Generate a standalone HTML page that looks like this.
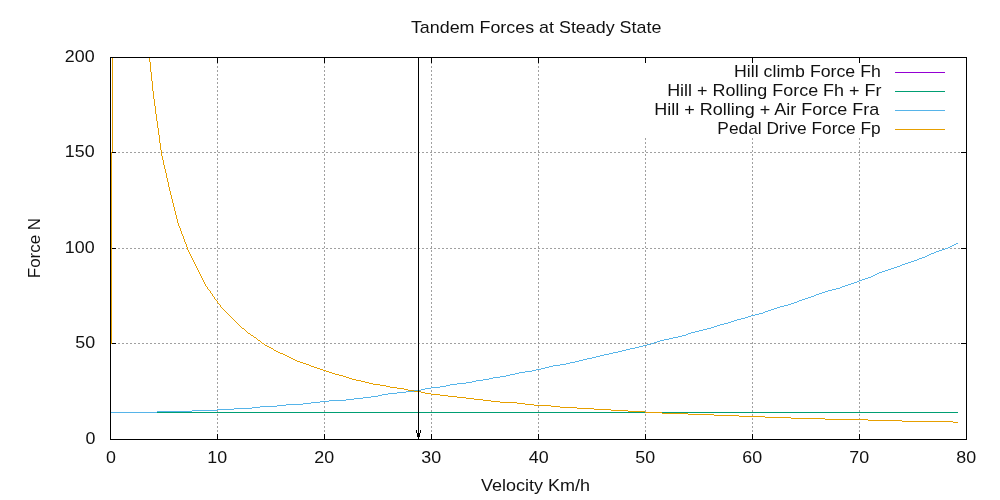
<!DOCTYPE html>
<html><head><meta charset="utf-8"><style>
html,body{margin:0;padding:0;background:#fff;}
svg{display:block;will-change:transform;}
.t{font-family:"Liberation Sans",sans-serif;font-size:17px;fill:#111;}
</style></head><body>
<svg width="1000" height="500" viewBox="0 0 1000 500">

<rect width="1000" height="500" fill="#fff"/>
<path d="M217 58h1v2h-1zM217 62h1v2h-1zM217 66h1v2h-1zM217 70h1v2h-1zM217 74h1v2h-1zM217 78h1v2h-1zM217 82h1v2h-1zM217 86h1v2h-1zM217 90h1v2h-1zM217 94h1v2h-1zM217 98h1v2h-1zM217 102h1v2h-1zM217 106h1v2h-1zM217 110h1v2h-1zM217 114h1v2h-1zM217 118h1v2h-1zM217 122h1v2h-1zM217 126h1v2h-1zM217 130h1v2h-1zM217 134h1v2h-1zM217 138h1v2h-1zM217 142h1v2h-1zM217 146h1v2h-1zM217 150h1v2h-1zM217 154h1v2h-1zM217 158h1v2h-1zM217 162h1v2h-1zM217 166h1v2h-1zM217 170h1v2h-1zM217 174h1v2h-1zM217 178h1v2h-1zM217 182h1v2h-1zM217 186h1v2h-1zM217 190h1v2h-1zM217 194h1v2h-1zM217 198h1v2h-1zM217 202h1v2h-1zM217 206h1v2h-1zM217 210h1v2h-1zM217 214h1v2h-1zM217 218h1v2h-1zM217 222h1v2h-1zM217 226h1v2h-1zM217 230h1v2h-1zM217 234h1v2h-1zM217 238h1v2h-1zM217 242h1v2h-1zM217 246h1v2h-1zM217 250h1v2h-1zM217 254h1v2h-1zM217 258h1v2h-1zM217 262h1v2h-1zM217 266h1v2h-1zM217 270h1v2h-1zM217 274h1v2h-1zM217 278h1v2h-1zM217 282h1v2h-1zM217 286h1v2h-1zM217 290h1v2h-1zM217 294h1v2h-1zM217 298h1v2h-1zM217 302h1v2h-1zM217 306h1v2h-1zM217 310h1v2h-1zM217 314h1v2h-1zM217 318h1v2h-1zM217 322h1v2h-1zM217 326h1v2h-1zM217 330h1v2h-1zM217 334h1v2h-1zM217 338h1v2h-1zM217 342h1v2h-1zM217 346h1v2h-1zM217 350h1v2h-1zM217 354h1v2h-1zM217 358h1v2h-1zM217 362h1v2h-1zM217 366h1v2h-1zM217 370h1v2h-1zM217 374h1v2h-1zM217 378h1v2h-1zM217 382h1v2h-1zM217 386h1v2h-1zM217 390h1v2h-1zM217 394h1v2h-1zM217 398h1v2h-1zM217 402h1v2h-1zM217 406h1v2h-1zM217 410h1v2h-1zM217 414h1v2h-1zM217 418h1v2h-1zM217 422h1v2h-1zM217 426h1v2h-1zM217 430h1v2h-1zM217 434h1v2h-1zM217 438h1v1h-1zM324 58h1v2h-1zM324 62h1v2h-1zM324 66h1v2h-1zM324 70h1v2h-1zM324 74h1v2h-1zM324 78h1v2h-1zM324 82h1v2h-1zM324 86h1v2h-1zM324 90h1v2h-1zM324 94h1v2h-1zM324 98h1v2h-1zM324 102h1v2h-1zM324 106h1v2h-1zM324 110h1v2h-1zM324 114h1v2h-1zM324 118h1v2h-1zM324 122h1v2h-1zM324 126h1v2h-1zM324 130h1v2h-1zM324 134h1v2h-1zM324 138h1v2h-1zM324 142h1v2h-1zM324 146h1v2h-1zM324 150h1v2h-1zM324 154h1v2h-1zM324 158h1v2h-1zM324 162h1v2h-1zM324 166h1v2h-1zM324 170h1v2h-1zM324 174h1v2h-1zM324 178h1v2h-1zM324 182h1v2h-1zM324 186h1v2h-1zM324 190h1v2h-1zM324 194h1v2h-1zM324 198h1v2h-1zM324 202h1v2h-1zM324 206h1v2h-1zM324 210h1v2h-1zM324 214h1v2h-1zM324 218h1v2h-1zM324 222h1v2h-1zM324 226h1v2h-1zM324 230h1v2h-1zM324 234h1v2h-1zM324 238h1v2h-1zM324 242h1v2h-1zM324 246h1v2h-1zM324 250h1v2h-1zM324 254h1v2h-1zM324 258h1v2h-1zM324 262h1v2h-1zM324 266h1v2h-1zM324 270h1v2h-1zM324 274h1v2h-1zM324 278h1v2h-1zM324 282h1v2h-1zM324 286h1v2h-1zM324 290h1v2h-1zM324 294h1v2h-1zM324 298h1v2h-1zM324 302h1v2h-1zM324 306h1v2h-1zM324 310h1v2h-1zM324 314h1v2h-1zM324 318h1v2h-1zM324 322h1v2h-1zM324 326h1v2h-1zM324 330h1v2h-1zM324 334h1v2h-1zM324 338h1v2h-1zM324 342h1v2h-1zM324 346h1v2h-1zM324 350h1v2h-1zM324 354h1v2h-1zM324 358h1v2h-1zM324 362h1v2h-1zM324 366h1v2h-1zM324 370h1v2h-1zM324 374h1v2h-1zM324 378h1v2h-1zM324 382h1v2h-1zM324 386h1v2h-1zM324 390h1v2h-1zM324 394h1v2h-1zM324 398h1v2h-1zM324 402h1v2h-1zM324 406h1v2h-1zM324 410h1v2h-1zM324 414h1v2h-1zM324 418h1v2h-1zM324 422h1v2h-1zM324 426h1v2h-1zM324 430h1v2h-1zM324 434h1v2h-1zM324 438h1v1h-1zM431 58h1v2h-1zM431 62h1v2h-1zM431 66h1v2h-1zM431 70h1v2h-1zM431 74h1v2h-1zM431 78h1v2h-1zM431 82h1v2h-1zM431 86h1v2h-1zM431 90h1v2h-1zM431 94h1v2h-1zM431 98h1v2h-1zM431 102h1v2h-1zM431 106h1v2h-1zM431 110h1v2h-1zM431 114h1v2h-1zM431 118h1v2h-1zM431 122h1v2h-1zM431 126h1v2h-1zM431 130h1v2h-1zM431 134h1v2h-1zM431 138h1v2h-1zM431 142h1v2h-1zM431 146h1v2h-1zM431 150h1v2h-1zM431 154h1v2h-1zM431 158h1v2h-1zM431 162h1v2h-1zM431 166h1v2h-1zM431 170h1v2h-1zM431 174h1v2h-1zM431 178h1v2h-1zM431 182h1v2h-1zM431 186h1v2h-1zM431 190h1v2h-1zM431 194h1v2h-1zM431 198h1v2h-1zM431 202h1v2h-1zM431 206h1v2h-1zM431 210h1v2h-1zM431 214h1v2h-1zM431 218h1v2h-1zM431 222h1v2h-1zM431 226h1v2h-1zM431 230h1v2h-1zM431 234h1v2h-1zM431 238h1v2h-1zM431 242h1v2h-1zM431 246h1v2h-1zM431 250h1v2h-1zM431 254h1v2h-1zM431 258h1v2h-1zM431 262h1v2h-1zM431 266h1v2h-1zM431 270h1v2h-1zM431 274h1v2h-1zM431 278h1v2h-1zM431 282h1v2h-1zM431 286h1v2h-1zM431 290h1v2h-1zM431 294h1v2h-1zM431 298h1v2h-1zM431 302h1v2h-1zM431 306h1v2h-1zM431 310h1v2h-1zM431 314h1v2h-1zM431 318h1v2h-1zM431 322h1v2h-1zM431 326h1v2h-1zM431 330h1v2h-1zM431 334h1v2h-1zM431 338h1v2h-1zM431 342h1v2h-1zM431 346h1v2h-1zM431 350h1v2h-1zM431 354h1v2h-1zM431 358h1v2h-1zM431 362h1v2h-1zM431 366h1v2h-1zM431 370h1v2h-1zM431 374h1v2h-1zM431 378h1v2h-1zM431 382h1v2h-1zM431 386h1v2h-1zM431 390h1v2h-1zM431 394h1v2h-1zM431 398h1v2h-1zM431 402h1v2h-1zM431 406h1v2h-1zM431 410h1v2h-1zM431 414h1v2h-1zM431 418h1v2h-1zM431 422h1v2h-1zM431 426h1v2h-1zM431 430h1v2h-1zM431 434h1v2h-1zM431 438h1v1h-1zM538 58h1v2h-1zM538 62h1v2h-1zM538 66h1v2h-1zM538 70h1v2h-1zM538 74h1v2h-1zM538 78h1v2h-1zM538 82h1v2h-1zM538 86h1v2h-1zM538 90h1v2h-1zM538 94h1v2h-1zM538 98h1v2h-1zM538 102h1v2h-1zM538 106h1v2h-1zM538 110h1v2h-1zM538 114h1v2h-1zM538 118h1v2h-1zM538 122h1v2h-1zM538 126h1v2h-1zM538 130h1v2h-1zM538 134h1v2h-1zM538 138h1v2h-1zM538 142h1v2h-1zM538 146h1v2h-1zM538 150h1v2h-1zM538 154h1v2h-1zM538 158h1v2h-1zM538 162h1v2h-1zM538 166h1v2h-1zM538 170h1v2h-1zM538 174h1v2h-1zM538 178h1v2h-1zM538 182h1v2h-1zM538 186h1v2h-1zM538 190h1v2h-1zM538 194h1v2h-1zM538 198h1v2h-1zM538 202h1v2h-1zM538 206h1v2h-1zM538 210h1v2h-1zM538 214h1v2h-1zM538 218h1v2h-1zM538 222h1v2h-1zM538 226h1v2h-1zM538 230h1v2h-1zM538 234h1v2h-1zM538 238h1v2h-1zM538 242h1v2h-1zM538 246h1v2h-1zM538 250h1v2h-1zM538 254h1v2h-1zM538 258h1v2h-1zM538 262h1v2h-1zM538 266h1v2h-1zM538 270h1v2h-1zM538 274h1v2h-1zM538 278h1v2h-1zM538 282h1v2h-1zM538 286h1v2h-1zM538 290h1v2h-1zM538 294h1v2h-1zM538 298h1v2h-1zM538 302h1v2h-1zM538 306h1v2h-1zM538 310h1v2h-1zM538 314h1v2h-1zM538 318h1v2h-1zM538 322h1v2h-1zM538 326h1v2h-1zM538 330h1v2h-1zM538 334h1v2h-1zM538 338h1v2h-1zM538 342h1v2h-1zM538 346h1v2h-1zM538 350h1v2h-1zM538 354h1v2h-1zM538 358h1v2h-1zM538 362h1v2h-1zM538 366h1v2h-1zM538 370h1v2h-1zM538 374h1v2h-1zM538 378h1v2h-1zM538 382h1v2h-1zM538 386h1v2h-1zM538 390h1v2h-1zM538 394h1v2h-1zM538 398h1v2h-1zM538 402h1v2h-1zM538 406h1v2h-1zM538 410h1v2h-1zM538 414h1v2h-1zM538 418h1v2h-1zM538 422h1v2h-1zM538 426h1v2h-1zM538 430h1v2h-1zM538 434h1v2h-1zM538 438h1v1h-1zM645 58h1v2h-1zM645 62h1v1h-1zM645 138h1v2h-1zM645 142h1v2h-1zM645 146h1v2h-1zM645 150h1v2h-1zM645 154h1v2h-1zM645 158h1v2h-1zM645 162h1v2h-1zM645 166h1v2h-1zM645 170h1v2h-1zM645 174h1v2h-1zM645 178h1v2h-1zM645 182h1v2h-1zM645 186h1v2h-1zM645 190h1v2h-1zM645 194h1v2h-1zM645 198h1v2h-1zM645 202h1v2h-1zM645 206h1v2h-1zM645 210h1v2h-1zM645 214h1v2h-1zM645 218h1v2h-1zM645 222h1v2h-1zM645 226h1v2h-1zM645 230h1v2h-1zM645 234h1v2h-1zM645 238h1v2h-1zM645 242h1v2h-1zM645 246h1v2h-1zM645 250h1v2h-1zM645 254h1v2h-1zM645 258h1v2h-1zM645 262h1v2h-1zM645 266h1v2h-1zM645 270h1v2h-1zM645 274h1v2h-1zM645 278h1v2h-1zM645 282h1v2h-1zM645 286h1v2h-1zM645 290h1v2h-1zM645 294h1v2h-1zM645 298h1v2h-1zM645 302h1v2h-1zM645 306h1v2h-1zM645 310h1v2h-1zM645 314h1v2h-1zM645 318h1v2h-1zM645 322h1v2h-1zM645 326h1v2h-1zM645 330h1v2h-1zM645 334h1v2h-1zM645 338h1v2h-1zM645 342h1v2h-1zM645 346h1v2h-1zM645 350h1v2h-1zM645 354h1v2h-1zM645 358h1v2h-1zM645 362h1v2h-1zM645 366h1v2h-1zM645 370h1v2h-1zM645 374h1v2h-1zM645 378h1v2h-1zM645 382h1v2h-1zM645 386h1v2h-1zM645 390h1v2h-1zM645 394h1v2h-1zM645 398h1v2h-1zM645 402h1v2h-1zM645 406h1v2h-1zM645 410h1v2h-1zM645 414h1v2h-1zM645 418h1v2h-1zM645 422h1v2h-1zM645 426h1v2h-1zM645 430h1v2h-1zM645 434h1v2h-1zM645 438h1v1h-1zM752 58h1v2h-1zM752 62h1v1h-1zM752 138h1v2h-1zM752 142h1v2h-1zM752 146h1v2h-1zM752 150h1v2h-1zM752 154h1v2h-1zM752 158h1v2h-1zM752 162h1v2h-1zM752 166h1v2h-1zM752 170h1v2h-1zM752 174h1v2h-1zM752 178h1v2h-1zM752 182h1v2h-1zM752 186h1v2h-1zM752 190h1v2h-1zM752 194h1v2h-1zM752 198h1v2h-1zM752 202h1v2h-1zM752 206h1v2h-1zM752 210h1v2h-1zM752 214h1v2h-1zM752 218h1v2h-1zM752 222h1v2h-1zM752 226h1v2h-1zM752 230h1v2h-1zM752 234h1v2h-1zM752 238h1v2h-1zM752 242h1v2h-1zM752 246h1v2h-1zM752 250h1v2h-1zM752 254h1v2h-1zM752 258h1v2h-1zM752 262h1v2h-1zM752 266h1v2h-1zM752 270h1v2h-1zM752 274h1v2h-1zM752 278h1v2h-1zM752 282h1v2h-1zM752 286h1v2h-1zM752 290h1v2h-1zM752 294h1v2h-1zM752 298h1v2h-1zM752 302h1v2h-1zM752 306h1v2h-1zM752 310h1v2h-1zM752 314h1v2h-1zM752 318h1v2h-1zM752 322h1v2h-1zM752 326h1v2h-1zM752 330h1v2h-1zM752 334h1v2h-1zM752 338h1v2h-1zM752 342h1v2h-1zM752 346h1v2h-1zM752 350h1v2h-1zM752 354h1v2h-1zM752 358h1v2h-1zM752 362h1v2h-1zM752 366h1v2h-1zM752 370h1v2h-1zM752 374h1v2h-1zM752 378h1v2h-1zM752 382h1v2h-1zM752 386h1v2h-1zM752 390h1v2h-1zM752 394h1v2h-1zM752 398h1v2h-1zM752 402h1v2h-1zM752 406h1v2h-1zM752 410h1v2h-1zM752 414h1v2h-1zM752 418h1v2h-1zM752 422h1v2h-1zM752 426h1v2h-1zM752 430h1v2h-1zM752 434h1v2h-1zM752 438h1v1h-1zM859 58h1v2h-1zM859 62h1v1h-1zM859 138h1v2h-1zM859 142h1v2h-1zM859 146h1v2h-1zM859 150h1v2h-1zM859 154h1v2h-1zM859 158h1v2h-1zM859 162h1v2h-1zM859 166h1v2h-1zM859 170h1v2h-1zM859 174h1v2h-1zM859 178h1v2h-1zM859 182h1v2h-1zM859 186h1v2h-1zM859 190h1v2h-1zM859 194h1v2h-1zM859 198h1v2h-1zM859 202h1v2h-1zM859 206h1v2h-1zM859 210h1v2h-1zM859 214h1v2h-1zM859 218h1v2h-1zM859 222h1v2h-1zM859 226h1v2h-1zM859 230h1v2h-1zM859 234h1v2h-1zM859 238h1v2h-1zM859 242h1v2h-1zM859 246h1v2h-1zM859 250h1v2h-1zM859 254h1v2h-1zM859 258h1v2h-1zM859 262h1v2h-1zM859 266h1v2h-1zM859 270h1v2h-1zM859 274h1v2h-1zM859 278h1v2h-1zM859 282h1v2h-1zM859 286h1v2h-1zM859 290h1v2h-1zM859 294h1v2h-1zM859 298h1v2h-1zM859 302h1v2h-1zM859 306h1v2h-1zM859 310h1v2h-1zM859 314h1v2h-1zM859 318h1v2h-1zM859 322h1v2h-1zM859 326h1v2h-1zM859 330h1v2h-1zM859 334h1v2h-1zM859 338h1v2h-1zM859 342h1v2h-1zM859 346h1v2h-1zM859 350h1v2h-1zM859 354h1v2h-1zM859 358h1v2h-1zM859 362h1v2h-1zM859 366h1v2h-1zM859 370h1v2h-1zM859 374h1v2h-1zM859 378h1v2h-1zM859 382h1v2h-1zM859 386h1v2h-1zM859 390h1v2h-1zM859 394h1v2h-1zM859 398h1v2h-1zM859 402h1v2h-1zM859 406h1v2h-1zM859 410h1v2h-1zM859 414h1v2h-1zM859 418h1v2h-1zM859 422h1v2h-1zM859 426h1v2h-1zM859 430h1v2h-1zM859 434h1v2h-1zM859 438h1v1h-1zM111 343h1v1h-1zM114 343h2v1h-2zM118 343h2v1h-2zM122 343h2v1h-2zM126 343h2v1h-2zM130 343h2v1h-2zM134 343h2v1h-2zM138 343h2v1h-2zM142 343h2v1h-2zM146 343h2v1h-2zM150 343h2v1h-2zM154 343h2v1h-2zM158 343h2v1h-2zM162 343h2v1h-2zM166 343h2v1h-2zM170 343h2v1h-2zM174 343h2v1h-2zM178 343h2v1h-2zM182 343h2v1h-2zM186 343h2v1h-2zM190 343h2v1h-2zM194 343h2v1h-2zM198 343h2v1h-2zM202 343h2v1h-2zM206 343h2v1h-2zM210 343h2v1h-2zM214 343h2v1h-2zM218 343h2v1h-2zM222 343h2v1h-2zM226 343h2v1h-2zM230 343h2v1h-2zM234 343h2v1h-2zM238 343h2v1h-2zM242 343h2v1h-2zM246 343h2v1h-2zM250 343h2v1h-2zM254 343h2v1h-2zM258 343h2v1h-2zM262 343h2v1h-2zM266 343h2v1h-2zM270 343h2v1h-2zM274 343h2v1h-2zM278 343h2v1h-2zM282 343h2v1h-2zM286 343h2v1h-2zM290 343h2v1h-2zM294 343h2v1h-2zM298 343h2v1h-2zM302 343h2v1h-2zM306 343h2v1h-2zM310 343h2v1h-2zM314 343h2v1h-2zM318 343h2v1h-2zM322 343h2v1h-2zM326 343h2v1h-2zM330 343h2v1h-2zM334 343h2v1h-2zM338 343h2v1h-2zM342 343h2v1h-2zM346 343h2v1h-2zM350 343h2v1h-2zM354 343h2v1h-2zM358 343h2v1h-2zM362 343h2v1h-2zM366 343h2v1h-2zM370 343h2v1h-2zM374 343h2v1h-2zM378 343h2v1h-2zM382 343h2v1h-2zM386 343h2v1h-2zM390 343h2v1h-2zM394 343h2v1h-2zM398 343h2v1h-2zM402 343h2v1h-2zM406 343h2v1h-2zM410 343h2v1h-2zM414 343h2v1h-2zM418 343h2v1h-2zM422 343h2v1h-2zM426 343h2v1h-2zM430 343h2v1h-2zM434 343h2v1h-2zM438 343h2v1h-2zM442 343h2v1h-2zM446 343h2v1h-2zM450 343h2v1h-2zM454 343h2v1h-2zM458 343h2v1h-2zM462 343h2v1h-2zM466 343h2v1h-2zM470 343h2v1h-2zM474 343h2v1h-2zM478 343h2v1h-2zM482 343h2v1h-2zM486 343h2v1h-2zM490 343h2v1h-2zM494 343h2v1h-2zM498 343h2v1h-2zM502 343h2v1h-2zM506 343h2v1h-2zM510 343h2v1h-2zM514 343h2v1h-2zM518 343h2v1h-2zM522 343h2v1h-2zM526 343h2v1h-2zM530 343h2v1h-2zM534 343h2v1h-2zM538 343h2v1h-2zM542 343h2v1h-2zM546 343h2v1h-2zM550 343h2v1h-2zM554 343h2v1h-2zM558 343h2v1h-2zM562 343h2v1h-2zM566 343h2v1h-2zM570 343h2v1h-2zM574 343h2v1h-2zM578 343h2v1h-2zM582 343h2v1h-2zM586 343h2v1h-2zM590 343h2v1h-2zM594 343h2v1h-2zM598 343h2v1h-2zM602 343h2v1h-2zM606 343h2v1h-2zM610 343h2v1h-2zM614 343h2v1h-2zM618 343h2v1h-2zM622 343h2v1h-2zM626 343h2v1h-2zM630 343h2v1h-2zM634 343h2v1h-2zM638 343h2v1h-2zM642 343h2v1h-2zM646 343h2v1h-2zM650 343h2v1h-2zM654 343h2v1h-2zM658 343h2v1h-2zM662 343h2v1h-2zM666 343h2v1h-2zM670 343h2v1h-2zM674 343h2v1h-2zM678 343h2v1h-2zM682 343h2v1h-2zM686 343h2v1h-2zM690 343h2v1h-2zM694 343h2v1h-2zM698 343h2v1h-2zM702 343h2v1h-2zM706 343h2v1h-2zM710 343h2v1h-2zM714 343h2v1h-2zM718 343h2v1h-2zM722 343h2v1h-2zM726 343h2v1h-2zM730 343h2v1h-2zM734 343h2v1h-2zM738 343h2v1h-2zM742 343h2v1h-2zM746 343h2v1h-2zM750 343h2v1h-2zM754 343h2v1h-2zM758 343h2v1h-2zM762 343h2v1h-2zM766 343h2v1h-2zM770 343h2v1h-2zM774 343h2v1h-2zM778 343h2v1h-2zM782 343h2v1h-2zM786 343h2v1h-2zM790 343h2v1h-2zM794 343h2v1h-2zM798 343h2v1h-2zM802 343h2v1h-2zM806 343h2v1h-2zM810 343h2v1h-2zM814 343h2v1h-2zM818 343h2v1h-2zM822 343h2v1h-2zM826 343h2v1h-2zM830 343h2v1h-2zM834 343h2v1h-2zM838 343h2v1h-2zM842 343h2v1h-2zM846 343h2v1h-2zM850 343h2v1h-2zM854 343h2v1h-2zM858 343h2v1h-2zM862 343h2v1h-2zM866 343h2v1h-2zM870 343h2v1h-2zM874 343h2v1h-2zM878 343h2v1h-2zM882 343h2v1h-2zM886 343h2v1h-2zM890 343h2v1h-2zM894 343h2v1h-2zM898 343h2v1h-2zM902 343h2v1h-2zM906 343h2v1h-2zM910 343h2v1h-2zM914 343h2v1h-2zM918 343h2v1h-2zM922 343h2v1h-2zM926 343h2v1h-2zM930 343h2v1h-2zM934 343h2v1h-2zM938 343h2v1h-2zM942 343h2v1h-2zM946 343h2v1h-2zM950 343h2v1h-2zM954 343h2v1h-2zM958 343h2v1h-2zM962 343h2v1h-2zM111 248h1v1h-1zM114 248h2v1h-2zM118 248h2v1h-2zM122 248h2v1h-2zM126 248h2v1h-2zM130 248h2v1h-2zM134 248h2v1h-2zM138 248h2v1h-2zM142 248h2v1h-2zM146 248h2v1h-2zM150 248h2v1h-2zM154 248h2v1h-2zM158 248h2v1h-2zM162 248h2v1h-2zM166 248h2v1h-2zM170 248h2v1h-2zM174 248h2v1h-2zM178 248h2v1h-2zM182 248h2v1h-2zM186 248h2v1h-2zM190 248h2v1h-2zM194 248h2v1h-2zM198 248h2v1h-2zM202 248h2v1h-2zM206 248h2v1h-2zM210 248h2v1h-2zM214 248h2v1h-2zM218 248h2v1h-2zM222 248h2v1h-2zM226 248h2v1h-2zM230 248h2v1h-2zM234 248h2v1h-2zM238 248h2v1h-2zM242 248h2v1h-2zM246 248h2v1h-2zM250 248h2v1h-2zM254 248h2v1h-2zM258 248h2v1h-2zM262 248h2v1h-2zM266 248h2v1h-2zM270 248h2v1h-2zM274 248h2v1h-2zM278 248h2v1h-2zM282 248h2v1h-2zM286 248h2v1h-2zM290 248h2v1h-2zM294 248h2v1h-2zM298 248h2v1h-2zM302 248h2v1h-2zM306 248h2v1h-2zM310 248h2v1h-2zM314 248h2v1h-2zM318 248h2v1h-2zM322 248h2v1h-2zM326 248h2v1h-2zM330 248h2v1h-2zM334 248h2v1h-2zM338 248h2v1h-2zM342 248h2v1h-2zM346 248h2v1h-2zM350 248h2v1h-2zM354 248h2v1h-2zM358 248h2v1h-2zM362 248h2v1h-2zM366 248h2v1h-2zM370 248h2v1h-2zM374 248h2v1h-2zM378 248h2v1h-2zM382 248h2v1h-2zM386 248h2v1h-2zM390 248h2v1h-2zM394 248h2v1h-2zM398 248h2v1h-2zM402 248h2v1h-2zM406 248h2v1h-2zM410 248h2v1h-2zM414 248h2v1h-2zM418 248h2v1h-2zM422 248h2v1h-2zM426 248h2v1h-2zM430 248h2v1h-2zM434 248h2v1h-2zM438 248h2v1h-2zM442 248h2v1h-2zM446 248h2v1h-2zM450 248h2v1h-2zM454 248h2v1h-2zM458 248h2v1h-2zM462 248h2v1h-2zM466 248h2v1h-2zM470 248h2v1h-2zM474 248h2v1h-2zM478 248h2v1h-2zM482 248h2v1h-2zM486 248h2v1h-2zM490 248h2v1h-2zM494 248h2v1h-2zM498 248h2v1h-2zM502 248h2v1h-2zM506 248h2v1h-2zM510 248h2v1h-2zM514 248h2v1h-2zM518 248h2v1h-2zM522 248h2v1h-2zM526 248h2v1h-2zM530 248h2v1h-2zM534 248h2v1h-2zM538 248h2v1h-2zM542 248h2v1h-2zM546 248h2v1h-2zM550 248h2v1h-2zM554 248h2v1h-2zM558 248h2v1h-2zM562 248h2v1h-2zM566 248h2v1h-2zM570 248h2v1h-2zM574 248h2v1h-2zM578 248h2v1h-2zM582 248h2v1h-2zM586 248h2v1h-2zM590 248h2v1h-2zM594 248h2v1h-2zM598 248h2v1h-2zM602 248h2v1h-2zM606 248h2v1h-2zM610 248h2v1h-2zM614 248h2v1h-2zM618 248h2v1h-2zM622 248h2v1h-2zM626 248h2v1h-2zM630 248h2v1h-2zM634 248h2v1h-2zM638 248h2v1h-2zM642 248h2v1h-2zM646 248h2v1h-2zM650 248h2v1h-2zM654 248h2v1h-2zM658 248h2v1h-2zM662 248h2v1h-2zM666 248h2v1h-2zM670 248h2v1h-2zM674 248h2v1h-2zM678 248h2v1h-2zM682 248h2v1h-2zM686 248h2v1h-2zM690 248h2v1h-2zM694 248h2v1h-2zM698 248h2v1h-2zM702 248h2v1h-2zM706 248h2v1h-2zM710 248h2v1h-2zM714 248h2v1h-2zM718 248h2v1h-2zM722 248h2v1h-2zM726 248h2v1h-2zM730 248h2v1h-2zM734 248h2v1h-2zM738 248h2v1h-2zM742 248h2v1h-2zM746 248h2v1h-2zM750 248h2v1h-2zM754 248h2v1h-2zM758 248h2v1h-2zM762 248h2v1h-2zM766 248h2v1h-2zM770 248h2v1h-2zM774 248h2v1h-2zM778 248h2v1h-2zM782 248h2v1h-2zM786 248h2v1h-2zM790 248h2v1h-2zM794 248h2v1h-2zM798 248h2v1h-2zM802 248h2v1h-2zM806 248h2v1h-2zM810 248h2v1h-2zM814 248h2v1h-2zM818 248h2v1h-2zM822 248h2v1h-2zM826 248h2v1h-2zM830 248h2v1h-2zM834 248h2v1h-2zM838 248h2v1h-2zM842 248h2v1h-2zM846 248h2v1h-2zM850 248h2v1h-2zM854 248h2v1h-2zM858 248h2v1h-2zM862 248h2v1h-2zM866 248h2v1h-2zM870 248h2v1h-2zM874 248h2v1h-2zM878 248h2v1h-2zM882 248h2v1h-2zM886 248h2v1h-2zM890 248h2v1h-2zM894 248h2v1h-2zM898 248h2v1h-2zM902 248h2v1h-2zM906 248h2v1h-2zM910 248h2v1h-2zM914 248h2v1h-2zM918 248h2v1h-2zM922 248h2v1h-2zM926 248h2v1h-2zM930 248h2v1h-2zM934 248h2v1h-2zM938 248h2v1h-2zM942 248h2v1h-2zM946 248h2v1h-2zM950 248h2v1h-2zM954 248h2v1h-2zM958 248h2v1h-2zM962 248h2v1h-2zM111 152h1v1h-1zM114 152h2v1h-2zM118 152h2v1h-2zM122 152h2v1h-2zM126 152h2v1h-2zM130 152h2v1h-2zM134 152h2v1h-2zM138 152h2v1h-2zM142 152h2v1h-2zM146 152h2v1h-2zM150 152h2v1h-2zM154 152h2v1h-2zM158 152h2v1h-2zM162 152h2v1h-2zM166 152h2v1h-2zM170 152h2v1h-2zM174 152h2v1h-2zM178 152h2v1h-2zM182 152h2v1h-2zM186 152h2v1h-2zM190 152h2v1h-2zM194 152h2v1h-2zM198 152h2v1h-2zM202 152h2v1h-2zM206 152h2v1h-2zM210 152h2v1h-2zM214 152h2v1h-2zM218 152h2v1h-2zM222 152h2v1h-2zM226 152h2v1h-2zM230 152h2v1h-2zM234 152h2v1h-2zM238 152h2v1h-2zM242 152h2v1h-2zM246 152h2v1h-2zM250 152h2v1h-2zM254 152h2v1h-2zM258 152h2v1h-2zM262 152h2v1h-2zM266 152h2v1h-2zM270 152h2v1h-2zM274 152h2v1h-2zM278 152h2v1h-2zM282 152h2v1h-2zM286 152h2v1h-2zM290 152h2v1h-2zM294 152h2v1h-2zM298 152h2v1h-2zM302 152h2v1h-2zM306 152h2v1h-2zM310 152h2v1h-2zM314 152h2v1h-2zM318 152h2v1h-2zM322 152h2v1h-2zM326 152h2v1h-2zM330 152h2v1h-2zM334 152h2v1h-2zM338 152h2v1h-2zM342 152h2v1h-2zM346 152h2v1h-2zM350 152h2v1h-2zM354 152h2v1h-2zM358 152h2v1h-2zM362 152h2v1h-2zM366 152h2v1h-2zM370 152h2v1h-2zM374 152h2v1h-2zM378 152h2v1h-2zM382 152h2v1h-2zM386 152h2v1h-2zM390 152h2v1h-2zM394 152h2v1h-2zM398 152h2v1h-2zM402 152h2v1h-2zM406 152h2v1h-2zM410 152h2v1h-2zM414 152h2v1h-2zM418 152h2v1h-2zM422 152h2v1h-2zM426 152h2v1h-2zM430 152h2v1h-2zM434 152h2v1h-2zM438 152h2v1h-2zM442 152h2v1h-2zM446 152h2v1h-2zM450 152h2v1h-2zM454 152h2v1h-2zM458 152h2v1h-2zM462 152h2v1h-2zM466 152h2v1h-2zM470 152h2v1h-2zM474 152h2v1h-2zM478 152h2v1h-2zM482 152h2v1h-2zM486 152h2v1h-2zM490 152h2v1h-2zM494 152h2v1h-2zM498 152h2v1h-2zM502 152h2v1h-2zM506 152h2v1h-2zM510 152h2v1h-2zM514 152h2v1h-2zM518 152h2v1h-2zM522 152h2v1h-2zM526 152h2v1h-2zM530 152h2v1h-2zM534 152h2v1h-2zM538 152h2v1h-2zM542 152h2v1h-2zM546 152h2v1h-2zM550 152h2v1h-2zM554 152h2v1h-2zM558 152h2v1h-2zM562 152h2v1h-2zM566 152h2v1h-2zM570 152h2v1h-2zM574 152h2v1h-2zM578 152h2v1h-2zM582 152h2v1h-2zM586 152h2v1h-2zM590 152h2v1h-2zM594 152h2v1h-2zM598 152h2v1h-2zM602 152h2v1h-2zM606 152h2v1h-2zM610 152h2v1h-2zM614 152h2v1h-2zM618 152h2v1h-2zM622 152h2v1h-2zM626 152h2v1h-2zM630 152h2v1h-2zM634 152h2v1h-2zM638 152h2v1h-2zM642 152h2v1h-2zM646 152h2v1h-2zM650 152h2v1h-2zM654 152h2v1h-2zM658 152h2v1h-2zM662 152h2v1h-2zM666 152h2v1h-2zM670 152h2v1h-2zM674 152h2v1h-2zM678 152h2v1h-2zM682 152h2v1h-2zM686 152h2v1h-2zM690 152h2v1h-2zM694 152h2v1h-2zM698 152h2v1h-2zM702 152h2v1h-2zM706 152h2v1h-2zM710 152h2v1h-2zM714 152h2v1h-2zM718 152h2v1h-2zM722 152h2v1h-2zM726 152h2v1h-2zM730 152h2v1h-2zM734 152h2v1h-2zM738 152h2v1h-2zM742 152h2v1h-2zM746 152h2v1h-2zM750 152h2v1h-2zM754 152h2v1h-2zM758 152h2v1h-2zM762 152h2v1h-2zM766 152h2v1h-2zM770 152h2v1h-2zM774 152h2v1h-2zM778 152h2v1h-2zM782 152h2v1h-2zM786 152h2v1h-2zM790 152h2v1h-2zM794 152h2v1h-2zM798 152h2v1h-2zM802 152h2v1h-2zM806 152h2v1h-2zM810 152h2v1h-2zM814 152h2v1h-2zM818 152h2v1h-2zM822 152h2v1h-2zM826 152h2v1h-2zM830 152h2v1h-2zM834 152h2v1h-2zM838 152h2v1h-2zM842 152h2v1h-2zM846 152h2v1h-2zM850 152h2v1h-2zM854 152h2v1h-2zM858 152h2v1h-2zM862 152h2v1h-2zM866 152h2v1h-2zM870 152h2v1h-2zM874 152h2v1h-2zM878 152h2v1h-2zM882 152h2v1h-2zM886 152h2v1h-2zM890 152h2v1h-2zM894 152h2v1h-2zM898 152h2v1h-2zM902 152h2v1h-2zM906 152h2v1h-2zM910 152h2v1h-2zM914 152h2v1h-2zM918 152h2v1h-2zM922 152h2v1h-2zM926 152h2v1h-2zM930 152h2v1h-2zM934 152h2v1h-2zM938 152h2v1h-2zM942 152h2v1h-2zM946 152h2v1h-2zM950 152h2v1h-2zM954 152h2v1h-2zM958 152h2v1h-2zM962 152h2v1h-2z" fill="#a0a0a0"/>
<rect x="110" y="58" width="1" height="5" fill="#000"/>
<rect x="110" y="434" width="1" height="5" fill="#000"/>
<rect x="217" y="58" width="1" height="5" fill="#000"/>
<rect x="217" y="434" width="1" height="5" fill="#000"/>
<rect x="324" y="58" width="1" height="5" fill="#000"/>
<rect x="324" y="434" width="1" height="5" fill="#000"/>
<rect x="431" y="58" width="1" height="5" fill="#000"/>
<rect x="431" y="434" width="1" height="5" fill="#000"/>
<rect x="538" y="58" width="1" height="5" fill="#000"/>
<rect x="538" y="434" width="1" height="5" fill="#000"/>
<rect x="645" y="58" width="1" height="5" fill="#000"/>
<rect x="645" y="434" width="1" height="5" fill="#000"/>
<rect x="752" y="58" width="1" height="5" fill="#000"/>
<rect x="752" y="434" width="1" height="5" fill="#000"/>
<rect x="859" y="58" width="1" height="5" fill="#000"/>
<rect x="859" y="434" width="1" height="5" fill="#000"/>
<rect x="966" y="58" width="1" height="5" fill="#000"/>
<rect x="966" y="434" width="1" height="5" fill="#000"/>
<rect x="111" y="439" width="5" height="1" fill="#000"/>
<rect x="961" y="439" width="5" height="1" fill="#000"/>
<rect x="111" y="343" width="5" height="1" fill="#000"/>
<rect x="961" y="343" width="5" height="1" fill="#000"/>
<rect x="111" y="248" width="5" height="1" fill="#000"/>
<rect x="961" y="248" width="5" height="1" fill="#000"/>
<rect x="111" y="152" width="5" height="1" fill="#000"/>
<rect x="961" y="152" width="5" height="1" fill="#000"/>
<rect x="111" y="57" width="5" height="1" fill="#000"/>
<rect x="961" y="57" width="5" height="1" fill="#000"/>
<rect x="110.5" y="57.5" width="856" height="382" fill="none" stroke="#000" stroke-width="1" shape-rendering="crispEdges"/>
<path d="M111 412h847v1h-847z" fill="#009e73"/>
<path d="M956 243h2v1h-2zM954 244h2v1h-2zM952 245h2v1h-2zM950 246h2v1h-2zM948 247h2v1h-2zM945 248h3v1h-3zM942 249h3v1h-3zM939 250h3v1h-3zM936 251h3v1h-3zM934 252h2v1h-2zM931 253h3v1h-3zM929 254h2v1h-2zM927 255h2v1h-2zM925 256h2v1h-2zM922 257h3v1h-3zM919 258h3v1h-3zM917 259h2v1h-2zM914 260h3v1h-3zM911 261h3v1h-3zM908 262h3v1h-3zM905 263h3v1h-3zM902 264h3v1h-3zM900 265h2v1h-2zM897 266h3v1h-3zM894 267h3v1h-3zM891 268h3v1h-3zM888 269h3v1h-3zM885 270h3v1h-3zM882 271h3v1h-3zM879 272h3v1h-3zM877 273h2v1h-2zM875 274h2v1h-2zM873 275h2v1h-2zM871 276h2v1h-2zM868 277h3v1h-3zM865 278h3v1h-3zM862 279h3v1h-3zM859 280h3v1h-3zM857 281h2v1h-2zM854 282h3v1h-3zM851 283h3v1h-3zM848 284h3v1h-3zM845 285h3v1h-3zM842 286h3v1h-3zM840 287h2v1h-2zM836 288h4v1h-4zM832 289h4v1h-4zM828 290h4v1h-4zM825 291h3v1h-3zM822 292h3v1h-3zM819 293h3v1h-3zM816 294h3v1h-3zM814 295h2v1h-2zM811 296h3v1h-3zM808 297h3v1h-3zM805 298h3v1h-3zM802 299h3v1h-3zM799 300h3v1h-3zM797 301h2v1h-2zM794 302h3v1h-3zM791 303h3v1h-3zM788 304h3v1h-3zM784 305h4v1h-4zM780 306h4v1h-4zM777 307h3v1h-3zM774 308h3v1h-3zM771 309h3v1h-3zM768 310h3v1h-3zM765 311h3v1h-3zM763 312h2v1h-2zM759 313h4v1h-4zM755 314h4v1h-4zM751 315h4v1h-4zM748 316h3v1h-3zM745 317h3v1h-3zM741 318h4v1h-4zM737 319h4v1h-4zM734 320h3v1h-3zM731 321h3v1h-3zM728 322h3v1h-3zM724 323h4v1h-4zM720 324h4v1h-4zM717 325h3v1h-3zM714 326h3v1h-3zM711 327h3v1h-3zM707 328h4v1h-4zM703 329h4v1h-4zM699 330h4v1h-4zM695 331h4v1h-4zM691 332h4v1h-4zM688 333h3v1h-3zM686 334h2v1h-2zM682 335h4v1h-4zM678 336h4v1h-4zM673 337h5v1h-5zM669 338h4v1h-4zM664 339h5v1h-5zM660 340h4v1h-4zM657 341h3v1h-3zM654 342h3v1h-3zM651 343h3v1h-3zM647 344h4v1h-4zM643 345h4v1h-4zM639 346h4v1h-4zM635 347h4v1h-4zM630 348h5v1h-5zM626 349h4v1h-4zM622 350h4v1h-4zM618 351h4v1h-4zM613 352h5v1h-5zM609 353h4v1h-4zM604 354h5v1h-5zM600 355h4v1h-4zM596 356h4v1h-4zM592 357h4v1h-4zM587 358h5v1h-5zM583 359h4v1h-4zM579 360h4v1h-4zM575 361h4v1h-4zM570 362h5v1h-5zM566 363h4v1h-4zM560 364h6v1h-6zM553 365h7v1h-7zM549 366h4v1h-4zM545 367h4v1h-4zM541 368h4v1h-4zM536 369h5v1h-5zM532 370h4v1h-4zM525 371h7v1h-7zM519 372h6v1h-6zM515 373h4v1h-4zM510 374h5v1h-5zM506 375h4v1h-4zM500 376h6v1h-6zM493 377h7v1h-7zM489 378h4v1h-4zM483 379h6v1h-6zM476 380h7v1h-7zM472 381h4v1h-4zM466 382h6v1h-6zM457 383h9v1h-9zM450 384h7v1h-7zM446 385h4v1h-4zM440 386h6v1h-6zM431 387h9v1h-9zM425 388h6v1h-6zM421 389h4v1h-4zM414 390h7v1h-7zM406 391h8v1h-8zM397 392h9v1h-9zM388 393h9v1h-9zM382 394h6v1h-6zM378 395h4v1h-4zM371 396h7v1h-7zM363 397h8v1h-8zM354 398h9v1h-9zM346 399h8v1h-8zM329 400h17v1h-17zM320 401h9v1h-9zM311 402h9v1h-9zM303 403h8v1h-8zM286 404h17v1h-17zM277 405h9v1h-9zM260 406h17v1h-17zM252 407h8v1h-8zM234 408h18v1h-18zM217 409h17v1h-17zM192 410h25v1h-25zM157 411h35v1h-35zM111 412h46v1h-46z" fill="#56b4e9"/>
<path d="M149 58h1v1h-1zM149 59h1v1h-1zM149 60h1v1h-1zM149 61h1v1h-1zM150 62h1v1h-1zM150 63h1v1h-1zM150 64h1v1h-1zM150 65h1v1h-1zM150 66h1v1h-1zM150 67h1v1h-1zM150 68h1v1h-1zM150 69h1v1h-1zM150 70h1v1h-1zM150 71h1v1h-1zM151 72h1v1h-1zM151 73h1v1h-1zM151 74h1v1h-1zM151 75h1v1h-1zM151 76h1v1h-1zM151 77h1v1h-1zM151 78h1v1h-1zM151 79h1v1h-1zM151 80h1v1h-1zM152 81h1v1h-1zM152 82h1v1h-1zM152 83h1v1h-1zM152 84h1v1h-1zM152 85h1v1h-1zM152 86h1v1h-1zM152 87h1v1h-1zM152 88h1v1h-1zM152 89h1v1h-1zM152 90h1v1h-1zM153 91h1v1h-1zM153 92h1v1h-1zM153 93h1v1h-1zM153 94h1v1h-1zM153 95h1v1h-1zM153 96h1v1h-1zM153 97h1v1h-1zM153 98h1v1h-1zM154 99h1v1h-1zM154 100h1v1h-1zM154 101h1v1h-1zM154 102h1v1h-1zM154 103h1v1h-1zM154 104h1v1h-1zM154 105h1v1h-1zM155 106h1v1h-1zM155 107h1v1h-1zM155 108h1v1h-1zM155 109h1v1h-1zM155 110h1v1h-1zM155 111h1v1h-1zM155 112h1v1h-1zM155 113h1v1h-1zM156 114h1v1h-1zM156 115h1v1h-1zM156 116h1v1h-1zM156 117h1v1h-1zM156 118h1v1h-1zM156 119h1v1h-1zM156 120h1v1h-1zM157 121h1v1h-1zM157 122h1v1h-1zM157 123h1v1h-1zM157 124h1v1h-1zM157 125h1v1h-1zM157 126h1v1h-1zM157 127h1v1h-1zM158 128h1v1h-1zM158 129h1v1h-1zM158 130h1v1h-1zM158 131h1v1h-1zM158 132h1v1h-1zM158 133h1v1h-1zM158 134h1v1h-1zM159 135h1v1h-1zM159 136h1v1h-1zM159 137h1v1h-1zM159 138h1v1h-1zM159 139h1v1h-1zM159 140h1v1h-1zM159 141h1v1h-1zM159 142h1v1h-1zM160 143h1v1h-1zM160 144h1v1h-1zM160 145h1v1h-1zM160 146h1v1h-1zM160 147h1v1h-1zM160 148h1v1h-1zM160 149h1v1h-1zM161 150h1v1h-1zM161 151h1v1h-1zM161 152h1v1h-1zM161 153h1v1h-1zM161 154h1v1h-1zM161 155h1v1h-1zM162 156h1v1h-1zM162 157h1v1h-1zM162 158h1v1h-1zM162 159h1v1h-1zM163 160h1v1h-1zM163 161h1v1h-1zM163 162h1v1h-1zM163 163h1v1h-1zM163 164h1v1h-1zM164 165h1v1h-1zM164 166h1v1h-1zM164 167h1v1h-1zM164 168h1v1h-1zM165 169h1v1h-1zM165 170h1v1h-1zM165 171h1v1h-1zM165 172h1v1h-1zM166 173h1v1h-1zM166 174h1v1h-1zM166 175h1v1h-1zM166 176h1v1h-1zM166 177h1v1h-1zM167 178h1v1h-1zM167 179h1v1h-1zM167 180h1v1h-1zM167 181h1v1h-1zM168 182h1v1h-1zM168 183h1v1h-1zM168 184h1v1h-1zM168 185h1v1h-1zM168 186h1v1h-1zM169 187h1v1h-1zM169 188h1v1h-1zM169 189h1v1h-1zM169 190h1v1h-1zM170 191h1v1h-1zM170 192h1v1h-1zM170 193h1v1h-1zM170 194h1v1h-1zM171 195h1v1h-1zM171 196h1v1h-1zM171 197h1v1h-1zM171 198h1v1h-1zM172 199h1v1h-1zM172 200h1v1h-1zM172 201h1v1h-1zM172 202h1v1h-1zM173 203h1v1h-1zM173 204h1v1h-1zM173 205h1v1h-1zM173 206h1v1h-1zM174 207h1v1h-1zM174 208h1v1h-1zM174 209h1v1h-1zM174 210h1v1h-1zM175 211h1v1h-1zM175 212h1v1h-1zM175 213h1v1h-1zM175 214h1v1h-1zM176 215h1v1h-1zM176 216h1v1h-1zM176 217h1v1h-1zM176 218h1v1h-1zM177 219h1v1h-1zM177 220h1v1h-1zM177 221h1v1h-1zM177 222h1v1h-1zM178 223h1v1h-1zM178 224h1v1h-1zM178 225h1v1h-1zM179 226h1v1h-1zM179 227h1v1h-1zM180 228h1v1h-1zM180 229h1v1h-1zM180 230h1v1h-1zM181 231h1v1h-1zM181 232h1v1h-1zM181 233h1v1h-1zM182 234h1v1h-1zM182 235h1v1h-1zM183 236h1v1h-1zM183 237h1v1h-1zM183 238h1v1h-1zM184 239h1v1h-1zM184 240h1v1h-1zM184 241h1v1h-1zM185 242h1v1h-1zM185 243h1v1h-1zM186 244h1v1h-1zM186 245h1v1h-1zM186 246h1v1h-1zM187 247h1v1h-1zM187 248h1v1h-1zM187 249h1v1h-1zM188 250h1v1h-1zM188 251h1v1h-1zM189 252h1v1h-1zM189 253h1v1h-1zM190 254h1v1h-1zM190 255h1v1h-1zM191 256h1v1h-1zM191 257h1v1h-1zM192 258h1v1h-1zM192 259h1v1h-1zM193 260h1v1h-1zM193 261h1v1h-1zM194 262h1v1h-1zM194 263h1v1h-1zM195 264h1v1h-1zM195 265h1v1h-1zM196 266h1v1h-1zM196 267h1v1h-1zM197 268h1v1h-1zM197 269h1v1h-1zM198 270h1v1h-1zM198 271h1v1h-1zM199 272h1v1h-1zM199 273h1v1h-1zM200 274h1v1h-1zM200 275h1v1h-1zM201 276h1v1h-1zM201 277h1v1h-1zM202 278h1v1h-1zM202 279h1v1h-1zM203 280h1v1h-1zM203 281h1v1h-1zM204 282h1v1h-1zM204 283h1v1h-1zM205 284h1v1h-1zM205 285h1v1h-1zM206 286h1v1h-1zM207 287h1v1h-1zM207 288h1v1h-1zM208 289h1v1h-1zM209 290h1v1h-1zM210 291h1v1h-1zM210 292h1v1h-1zM211 293h1v1h-1zM212 294h1v1h-1zM212 295h1v1h-1zM213 296h1v1h-1zM214 297h1v1h-1zM214 298h1v1h-1zM215 299h1v1h-1zM216 300h1v1h-1zM217 301h1v1h-1zM217 302h1v1h-1zM218 303h1v1h-1zM219 304h1v1h-1zM220 305h1v1h-1zM220 306h1v1h-1zM221 307h1v1h-1zM222 308h1v1h-1zM223 309h1v1h-1zM224 310h1v1h-1zM225 311h1v1h-1zM226 312h1v1h-1zM227 313h1v1h-1zM228 314h1v1h-1zM229 315h1v1h-1zM230 316h1v1h-1zM231 317h1v1h-1zM232 318h1v1h-1zM233 319h1v1h-1zM234 320h1v1h-1zM235 321h1v1h-1zM236 322h1v1h-1zM237 323h1v1h-1zM238 324h1v1h-1zM239 325h1v1h-1zM240 326h1v1h-1zM241 327h1v1h-1zM242 328h2v1h-2zM244 329h1v1h-1zM245 330h1v1h-1zM246 331h1v1h-1zM247 332h1v1h-1zM248 333h2v1h-2zM250 334h1v1h-1zM251 335h2v1h-2zM253 336h1v1h-1zM254 337h2v1h-2zM256 338h1v1h-1zM257 339h1v1h-1zM258 340h2v1h-2zM260 341h1v1h-1zM261 342h1v1h-1zM262 343h2v1h-2zM264 344h1v1h-1zM265 345h2v1h-2zM267 346h2v1h-2zM269 347h2v1h-2zM271 348h2v1h-2zM273 349h1v1h-1zM274 350h2v1h-2zM276 351h2v1h-2zM278 352h2v1h-2zM280 353h3v1h-3zM283 354h2v1h-2zM285 355h2v1h-2zM287 356h2v1h-2zM289 357h2v1h-2zM291 358h2v1h-2zM293 359h2v1h-2zM295 360h2v1h-2zM297 361h3v1h-3zM300 362h3v1h-3zM303 363h3v1h-3zM306 364h3v1h-3zM309 365h2v1h-2zM311 366h3v1h-3zM314 367h3v1h-3zM317 368h3v1h-3zM320 369h3v1h-3zM323 370h3v1h-3zM326 371h3v1h-3zM329 372h3v1h-3zM332 373h3v1h-3zM335 374h4v1h-4zM339 375h4v1h-4zM343 376h3v1h-3zM346 377h3v1h-3zM349 378h3v1h-3zM352 379h4v1h-4zM356 380h5v1h-5zM361 381h4v1h-4zM365 382h4v1h-4zM369 383h4v1h-4zM373 384h7v1h-7zM380 385h6v1h-6zM386 386h4v1h-4zM390 387h7v1h-7zM397 388h7v1h-7zM404 389h4v1h-4zM408 390h6v1h-6zM414 391h7v1h-7zM421 392h4v1h-4zM425 393h6v1h-6zM431 394h9v1h-9zM440 395h8v1h-8zM448 396h9v1h-9zM457 397h9v1h-9zM466 398h8v1h-8zM474 399h9v1h-9zM483 400h8v1h-8zM491 401h9v1h-9zM500 402h17v1h-17zM517 403h8v1h-8zM525 404h9v1h-9zM534 405h17v1h-17zM551 406h9v1h-9zM560 407h17v1h-17zM577 408h17v1h-17zM594 409h17v1h-17zM611 410h17v1h-17zM628 411h17v1h-17zM645 412h17v1h-17zM662 413h26v1h-26zM688 414h26v1h-26zM714 415h25v1h-25zM739 416h26v1h-26zM765 417h26v1h-26zM791 418h34v1h-34zM825 419h43v1h-43zM868 420h34v1h-34zM902 421h51v1h-51zM953 422h5v1h-5z" fill="#e69f00"/>
<rect x="112" y="58" width="1" height="94" fill="#e69f00"/>
<rect x="111" y="152" width="1" height="192" fill="#e69f00"/>
<rect x="418" y="58" width="1" height="381" fill="#000"/>
<rect x="416" y="430" width="1" height="3" fill="#000"/>
<rect x="420" y="430" width="1" height="3" fill="#000"/>
<rect x="417" y="433" width="3" height="4" fill="#000"/>
<text x="734.06" y="77" textLength="146.79" lengthAdjust="spacingAndGlyphs" class="t">Hill climb Force Fh</text>
<rect x="895" y="72" width="50" height="1" fill="#9400d3"/>
<text x="667.15" y="96" textLength="214.29" lengthAdjust="spacingAndGlyphs" class="t">Hill + Rolling Force Fh + Fr</text>
<rect x="895" y="91" width="50" height="1" fill="#009e73"/>
<text x="654.24" y="115" textLength="225.11" lengthAdjust="spacingAndGlyphs" class="t">Hill + Rolling + Air Force Fra</text>
<rect x="895" y="110" width="50" height="1" fill="#56b4e9"/>
<text x="717.38" y="134" textLength="163.31" lengthAdjust="spacingAndGlyphs" class="t">Pedal Drive Force Fp</text>
<rect x="895" y="129" width="50" height="1" fill="#e69f00"/>
<text x="105.95" y="463" textLength="9.94" lengthAdjust="spacingAndGlyphs" class="t">0</text>
<text x="207.22" y="463" textLength="19.87" lengthAdjust="spacingAndGlyphs" class="t">10</text>
<text x="314.22" y="463" textLength="19.87" lengthAdjust="spacingAndGlyphs" class="t">20</text>
<text x="421.22" y="463" textLength="19.87" lengthAdjust="spacingAndGlyphs" class="t">30</text>
<text x="528.75" y="463" textLength="19.87" lengthAdjust="spacingAndGlyphs" class="t">40</text>
<text x="635.23" y="463" textLength="19.87" lengthAdjust="spacingAndGlyphs" class="t">50</text>
<text x="742.23" y="463" textLength="19.87" lengthAdjust="spacingAndGlyphs" class="t">60</text>
<text x="849.23" y="463" textLength="19.87" lengthAdjust="spacingAndGlyphs" class="t">70</text>
<text x="956.23" y="463" textLength="19.87" lengthAdjust="spacingAndGlyphs" class="t">80</text>
<text x="85.45" y="444" textLength="9.94" lengthAdjust="spacingAndGlyphs" class="t">0</text>
<text x="75.30" y="348" textLength="19.87" lengthAdjust="spacingAndGlyphs" class="t">50</text>
<text x="64.80" y="253" textLength="29.79" lengthAdjust="spacingAndGlyphs" class="t">100</text>
<text x="64.80" y="157" textLength="29.79" lengthAdjust="spacingAndGlyphs" class="t">150</text>
<text x="64.80" y="62" textLength="29.79" lengthAdjust="spacingAndGlyphs" class="t">200</text>
<text x="410.90" y="33" textLength="250.48" lengthAdjust="spacingAndGlyphs" class="t">Tandem Forces at Steady State</text>
<text x="481.00" y="491" textLength="109.06" lengthAdjust="spacingAndGlyphs" class="t">Velocity Km/h</text>
<text transform="translate(39.8,278.20) rotate(-90)" x="0" y="0" textLength="60.26" lengthAdjust="spacingAndGlyphs" class="t">Force N</text>
</svg></body></html>
